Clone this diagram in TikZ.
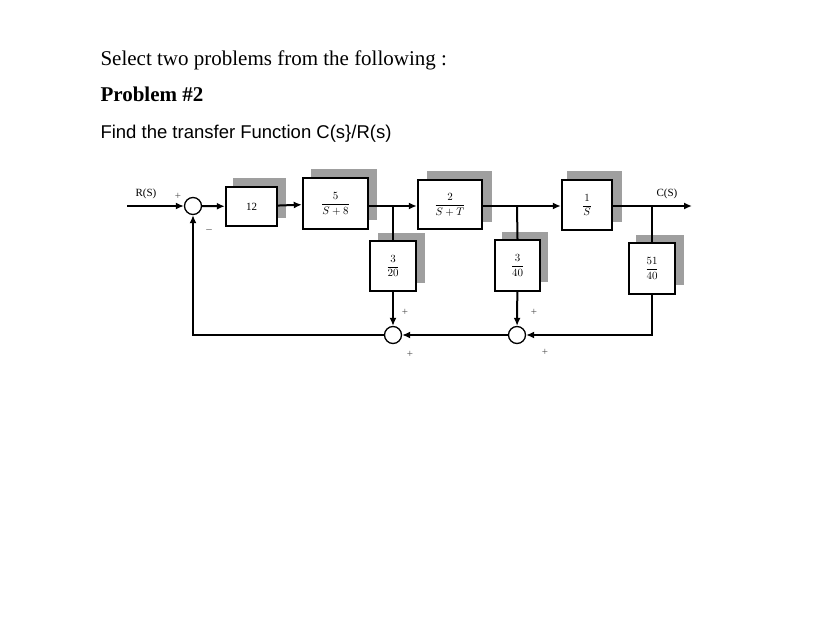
\documentclass[tikz,border=0pt]{standalone}
\usepackage{amsmath}
\usepackage{fontspec}
\setmainfont{Liberation Serif}
\newfontfamily\arialf{Liberation Sans}
\usetikzlibrary{arrows.meta}
\begin{document}
\begin{tikzpicture}[x=1pt,y=-1pt,
  blk/.style={draw,line width=2.4pt,fill=white,inner sep=0pt,font=\fontsize{11}{12}\selectfont},
  sh/.style={fill=gray!75,draw=none},
  sumj/.style={draw,circle,line width=1.3pt,minimum size=17pt,inner sep=0pt,fill=white},
  ln/.style={line width=2pt},
  ar/.style={line width=2pt,-{Latex[length=8pt,width=7pt]}},
  sg/.style={font=\fontsize{11}{12}\selectfont,text=black!70}]
\useasboundingbox (0,0) rectangle (828,618);
\node[anchor=base west,font=\fontsize{21}{24}\selectfont] (t1) at (97,66) {Select two problems from the following :};
\node[anchor=base west,font=\bfseries\fontsize{21}{24}\selectfont] (t2) at (97,102) {Problem \#2};
\node[anchor=base west,font=\arialf\fontsize{18.5}{22}\selectfont] (t3) at (97,138) {Find the transfer Function C(s\}/R(s)};
% shadows
\fill[sh] (233,178) rectangle (286,218);
\fill[sh] (311,169) rectangle (377,220);
\fill[sh] (378,233) rectangle (425,283);
\fill[sh] (427,171) rectangle (492,222);
\fill[sh] (502,232) rectangle (548,282);
\fill[sh] (567,171) rectangle (622,222);
\fill[sh] (636,235) rectangle (684,285);
% blocks
\node[blk,minimum width=51pt,minimum height=39pt] (b1) at (251.5,206.5) {12};
\node[blk,minimum width=65pt,minimum height=51pt] (b2) at (335.5,203.5) {$\dfrac{5}{S+8}$};
\node[blk,minimum width=46pt,minimum height=50pt] (b3) at (393,266) {$\dfrac{3}{20}$};
\node[blk,minimum width=64pt,minimum height=49pt] (b4) at (450,204.5) {$\dfrac{2}{S+T}$};
\node[blk,minimum width=45pt,minimum height=51pt] (b5) at (517.5,265.5) {$\dfrac{3}{40}$};
\node[blk,minimum width=50pt,minimum height=50pt] (b6) at (587,205) {$\dfrac{1}{S}$};
\node[blk,minimum width=46pt,minimum height=51pt] (b7) at (652,268.5) {$\dfrac{51}{40}$};
% sums
\node[sumj] (s1) at (193,206) {};
\node[sumj] (s2) at (393,335) {};
\node[sumj] (s3) at (517,335) {};
\coordinate (in) at (127,206);
\coordinate (out) at (692,206);
\coordinate (j1) at (393,206);
\coordinate (j2) at (517,206);
\coordinate (j3) at (652,206);
\coordinate (c1) at (652,335);
\coordinate (c2) at (193,335);
\draw[ar] (in) -- (s1);
\draw[ar] (s1) -- (b1);
\draw[ar] (b1) -- (b2);
\draw[ar] (b2.east|-j1) -- (b4.west|-j1);
\draw[ar] (b4.east|-j2) -- (b6.west|-j2);
\draw[ar] (b6.east|-j3) -- (out);
\draw[ln] (j1) -- (b3.north);
\draw[ln] (j2) -- (b5.north);
\draw[ln] (j3) -- (b7.north);
\draw[ar] (b3) -- (s2);
\draw[ar] (b5) -- (s3);
\draw[ar] (b7.south) -- (c1) -- (s3);
\draw[ar] (s3) -- (s2);
\draw[ar] (s2) -- (c2) -- (s1);
% labels
\node[font=\fontsize{11}{12}\selectfont] (rl) at (146,194) {R(S)};
\node[font=\fontsize{11}{12}\selectfont] (cl) at (667,194) {C(S)};
\node[sg] (p1) at (178,196) {+};
\node[sg] (m1) at (209,231) {--};
\node[sg] (p2) at (405,312) {+};
\node[sg] (p3) at (410,354) {+};
\node[sg] (p4) at (534,312) {+};
\node[sg] (p5) at (545,352) {+};
\end{tikzpicture}
\end{document}
